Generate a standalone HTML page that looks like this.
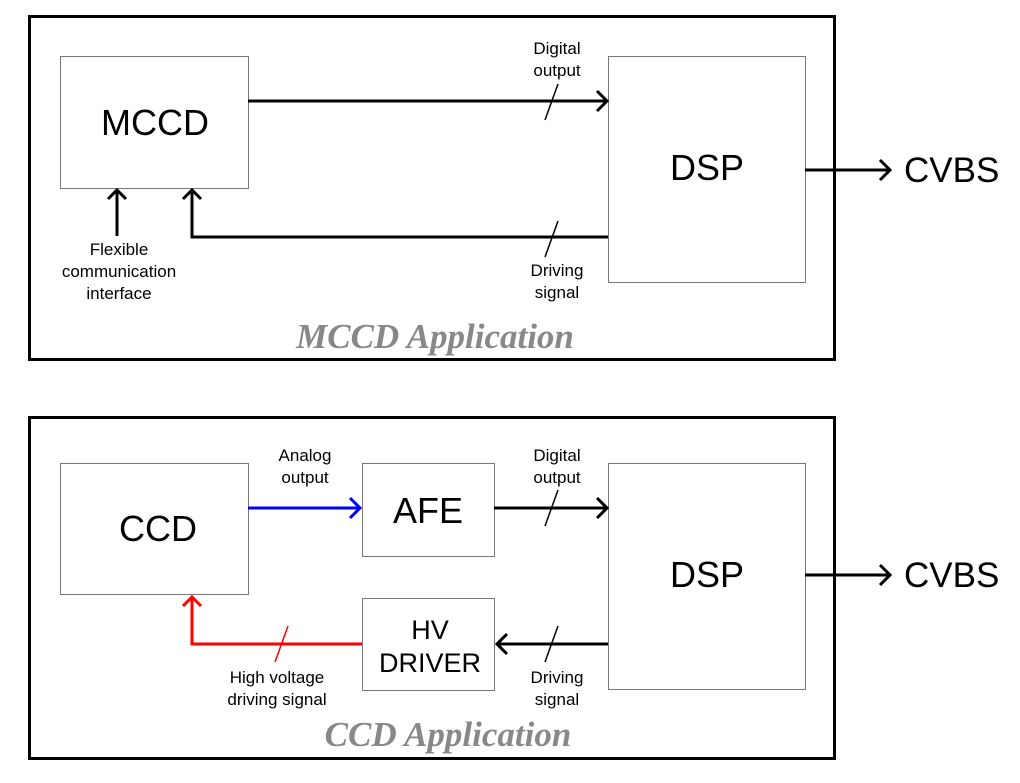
<!DOCTYPE html>
<html><head><style>body{margin:0;background:#fff}svg{display:block}</style></head><body>
<svg width="1020" height="783" viewBox="0 0 1020 783" xmlns="http://www.w3.org/2000/svg" font-family="Liberation Sans, Arial, sans-serif">
<g fill="none" stroke="#000" stroke-width="3">
<rect x="29.5" y="16.5" width="805" height="343"/>
<rect x="29.5" y="417.5" width="805" height="341"/>
</g>
<g fill="#fff" stroke="#777" stroke-width="1">
<rect x="60.5" y="56.5" width="188" height="132"/>
<rect x="608.5" y="56.5" width="197" height="226"/>
<rect x="60.5" y="463.5" width="188" height="131"/>
<rect x="362.5" y="463.5" width="132" height="93"/>
<rect x="362.5" y="598.5" width="132" height="92"/>
<rect x="608.5" y="463.5" width="197" height="226"/>
</g>
<g fill="none" stroke="#000" stroke-width="3">
<path d="M248 101H607M597 91l10 10-10 10"/>
<path d="M608 237H192V190M183 199l9-9 9 9"/>
<path d="M117 236V190M108 199l9-9 9 9"/>
<path d="M805 170H890M880 160l10 10-10 10"/>
<path d="M494 508H607M597 498l10 10-10 10"/>
<path d="M608 644H497M507 634l-10 10 10 10"/>
<path d="M805 575H890M880 565l10 10-10 10"/>
</g>
<path d="M248 508H360M350 498l10 10-10 10" fill="none" stroke="#00f" stroke-width="3"/>
<path d="M362 644H192V597M183 606l9-9 9 9" fill="none" stroke="#f00" stroke-width="3"/>
<g stroke="#000" stroke-width="1.5">
<line x1="558" y1="84" x2="545" y2="120"/>
<line x1="558" y1="221" x2="545" y2="257"/>
<line x1="558" y1="490" x2="545" y2="526"/>
<line x1="558" y1="626" x2="545" y2="662"/>
</g>
<line x1="288" y1="626" x2="275" y2="662" stroke="#f00" stroke-width="1.5"/>
<g fill="#000" text-anchor="middle" font-size="17">
<text x="557" y="54">Digital</text><text x="557" y="76">output</text>
<text x="557" y="276">Driving</text><text x="557" y="298">signal</text>
<text x="119" y="255">Flexible</text><text x="119" y="277">communication</text><text x="119" y="299">interface</text>
<text x="305" y="461">Analog</text><text x="305" y="483">output</text>
<text x="557" y="461">Digital</text><text x="557" y="483">output</text>
<text x="557" y="683">Driving</text><text x="557" y="705">signal</text>
<text x="277" y="683">High voltage</text><text x="277" y="705">driving signal</text>
</g>
<g fill="#000" text-anchor="middle" font-size="36">
<text x="155" y="135">MCCD</text>
<text x="707" y="180">DSP</text>
<text x="158" y="541">CCD</text>
<text x="428" y="523">AFE</text>
<text x="707" y="587">DSP</text>
</g>
<g fill="#000" text-anchor="middle" font-size="27">
<text x="430" y="639">HV</text><text x="430" y="672">DRIVER</text>
</g>
<g fill="#000" font-size="35">
<text x="904" y="182">CVBS</text>
<text x="904" y="587">CVBS</text>
</g>
<g fill="#888" text-anchor="middle" font-family="Liberation Serif, serif" font-weight="bold" font-style="italic" font-size="35">
<text x="435" y="348">MCCD Application</text>
<text x="448" y="746">CCD Application</text>
</g>
</svg>
</body></html>
